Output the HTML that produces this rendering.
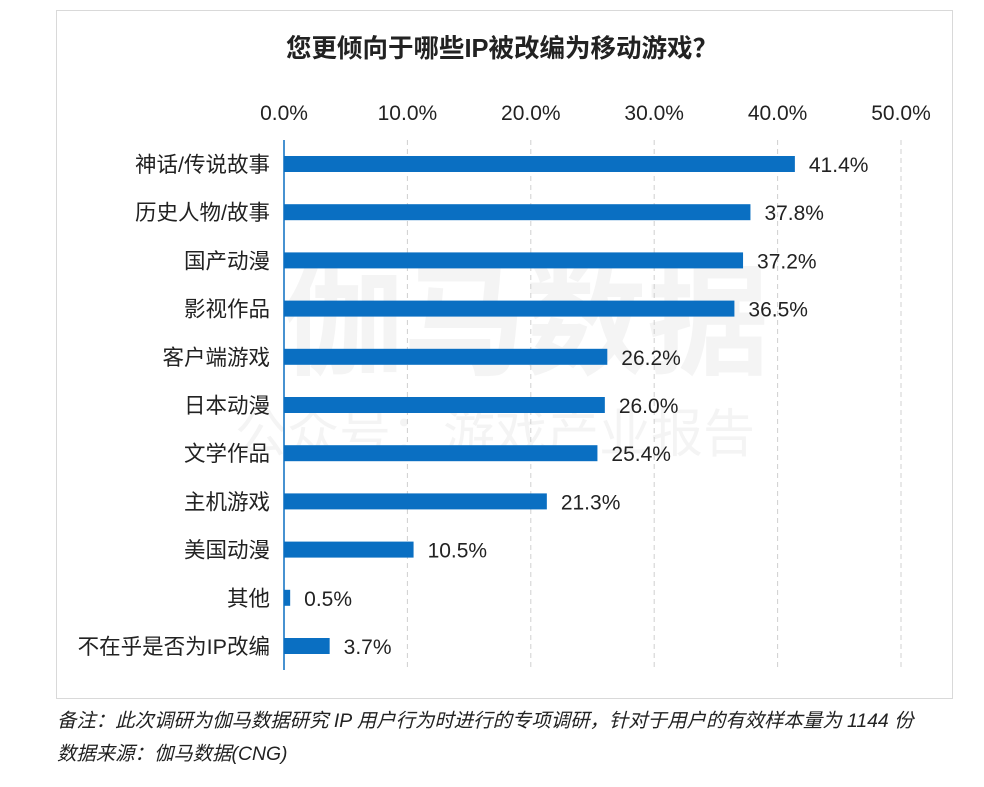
<!DOCTYPE html>
<html><head><meta charset="utf-8"><style>
body{margin:0;width:984px;height:787px;background:#fff;font-family:"Liberation Sans","Noto Sans CJK SC",sans-serif;position:relative;overflow:hidden}
.note{position:absolute;left:57px;font-size:19.4px;font-style:italic;color:#222;white-space:nowrap}
</style></head><body>
<div style="position:absolute;left:56px;top:10px;width:895px;height:687px;border:1px solid #d9d9d9"></div>
<svg id="chart" width="984" height="787" style="position:absolute;left:0;top:0">
<text x="525" y="365" text-anchor="middle" font-size="122" font-weight="bold" fill="#000" fill-opacity="0.045">伽马数据</text>
<text x="495" y="452" text-anchor="middle" font-size="52" fill="#000" fill-opacity="0.045">公众号：游戏产业报告</text>
<text x="502" y="57" text-anchor="middle" font-size="25.5" font-weight="bold" fill="#222">您更倾向于哪些IP被改编为移动游戏？</text>
<g id="g"></g>
</svg>
<div class="note" style="top:704px">备注：此次调研为伽马数据研究 IP 用户行为时进行的专项调研，针对于用户的有效样本量为 1144 份</div>
<div class="note" style="top:737px">数据来源：伽马数据(CNG)</div>
<script>
const categories=["神话/传说故事","历史人物/故事","国产动漫","影视作品","客户端游戏","日本动漫","文学作品","主机游戏","美国动漫","其他","不在乎是否为IP改编"];
const values=[41.4,37.8,37.2,36.5,26.2,26.0,25.4,21.3,10.5,0.5,3.7];
const ticks=[0,10,20,30,40,50];
const tickLabels=["0.0%","10.0%","20.0%","30.0%","40.0%","50.0%"];
const NS="http://www.w3.org/2000/svg",g=document.getElementById('g');
const x=v=>284+v*12.34, y=i=>164+i*48.2;
function el(t,a,txt){const e=document.createElementNS(NS,t);for(const k in a)e.setAttribute(k,a[k]);if(txt!=null)e.textContent=txt;g.appendChild(e);return e;}
ticks.forEach((t,i)=>{
 if(i>0){const l=el('line',{x1:x(t),x2:x(t),y1:140,y2:668,stroke:'#d0d0d0','stroke-dasharray':'5,4'});
 
 }
 const tx=el('text',{x:x(t),y:120,'text-anchor':'middle','font-size':21,fill:'#222'},tickLabels[i]);
 
 
});
categories.forEach((c,i)=>{
 const r=el('rect',{x:x(0),y:y(i)-8,width:x(values[i])-x(0),height:16,fill:'#0a6fc2'});
 
 
 const lb=el('text',{x:270,y:y(i)+8,'text-anchor':'end','font-size':21.5,fill:'#222'},c);
 
 
 const v=el('text',{x:x(values[i])+14,y:y(i)+8,'font-size':21,fill:'#222'},values[i].toFixed(1)+'%');
 
 
});
const ax=el('line',{x1:x(0),x2:x(0),y1:140,y2:670,stroke:'#0a6fc2','stroke-width':1.5});


</script>
</body></html>
